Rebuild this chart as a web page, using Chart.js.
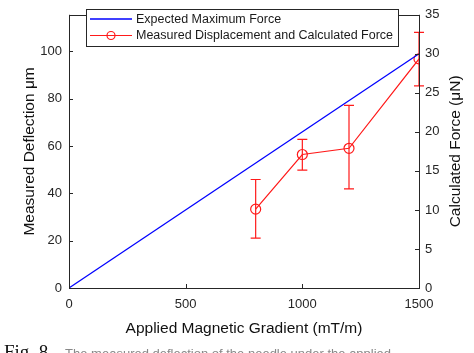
<!DOCTYPE html>
<html>
<head>
<meta charset="utf-8">
<script src="https://cdn.jsdelivr.net/npm/chart.js@4.4.1/dist/chart.umd.min.js"></script>
<style>
  html, body { margin: 0; padding: 0; background: #fff; }
  #wrap { position: relative; width: 474px; height: 353px; overflow: hidden; }
  #caption { position: absolute; left: 4px; top: 342px; white-space: nowrap; line-height: 20px;
             font-family: "Liberation Serif", serif; font-size: 19px; color: #111; }
  #caption span { font-family: "Liberation Sans", sans-serif; font-size: 13px; color: #888; margin-left: 12px; }
</style>
</head>
<body>
<div id="wrap">
  <canvas id="chart" width="474" height="353"></canvas>
  <div id="caption">Fig. 8.<span>The measured deflection of the needle under the applied</span></div>
</div>
<script>
// gradient values (mT/m)
const gradient = [800, 1000, 1200, 1500];
// calculated force (uN) with error range
const force = [10.1, 17.1, 17.9, 29.35];
const forceLow = [6.4, 15.1, 12.7, 25.9];
const forceHigh = [13.9, 19.05, 23.4, 32.75];

// expected maximum force line
const expectedX = [0, 1500];
const expectedForce = [0, 30];

const xTicks = [0, 500, 1000, 1500];
const leftTicks = [0, 20, 40, 60, 80, 100];
const rightTicks = [0, 5, 10, 15, 20, 25, 30, 35];

const axisColor = "#262626";
const fontFamily = "'Liberation Sans', Arial, sans-serif";
const tickFont = { family: fontFamily, size: 13 };
const titleFont = { family: fontFamily, size: 15.5 };

// inward tick marks, box around the plot, right axis title
const boxPlugin = {
    id: "box",
    afterDraw(chart) {
        const ctx = chart.ctx;
        const a = chart.chartArea;
        const sx = chart.scales.x, sl = chart.scales.yL, sr = chart.scales.yR;
        ctx.save();
        ctx.strokeStyle = axisColor;
        ctx.lineWidth = 1;
        ctx.strokeRect(Math.round(a.left) + 0.5, Math.round(a.top) + 0.5,
            Math.round(a.right - a.left), Math.round(a.bottom - a.top));
        ctx.beginPath();
        xTicks.forEach(v => {
            const px = Math.round(sx.getPixelForValue(v)) + 0.5;
            ctx.moveTo(px, a.bottom); ctx.lineTo(px, a.bottom - 4);
            ctx.moveTo(px, a.top); ctx.lineTo(px, a.top + 4);
        });
        leftTicks.forEach(v => {
            const py = Math.round(sl.getPixelForValue(v)) + 0.5;
            ctx.moveTo(a.left, py); ctx.lineTo(a.left + 4, py);
        });
        rightTicks.forEach(v => {
            const py = Math.round(sr.getPixelForValue(v)) + 0.5;
            ctx.moveTo(a.right, py); ctx.lineTo(a.right - 4, py);
        });
        ctx.stroke();

        // right title reads bottom to top, like the left one
        ctx.translate(456, (a.top + a.bottom) / 2);
        ctx.rotate(-Math.PI / 2);
        ctx.font = titleFont.size + "px " + fontFamily;
        ctx.fillStyle = "#111";
        ctx.textAlign = "center";
        ctx.textBaseline = "middle";
        ctx.fillText("Calculated Force (\u03bcN)", 0, 0);
        ctx.restore();
    }
};

// vertical error bars with caps
const errorBarPlugin = {
    id: "errorBars",
    afterDatasetsDraw(chart) {
        const ctx = chart.ctx;
        const sx = chart.scales.x, sr = chart.scales.yR;
        ctx.save();
        ctx.strokeStyle = "#ff1a1a";
        ctx.lineWidth = 1.2;
        ctx.beginPath();
        gradient.forEach((g, i) => {
            const px = sx.getPixelForValue(g);
            const lo = sr.getPixelForValue(forceLow[i]);
            const hi = sr.getPixelForValue(forceHigh[i]);
            ctx.moveTo(px, lo); ctx.lineTo(px, hi);
            ctx.moveTo(px - 5, lo); ctx.lineTo(px + 5, lo);
            ctx.moveTo(px - 5, hi); ctx.lineTo(px + 5, hi);
        });
        ctx.stroke();
        ctx.restore();
    }
};

// boxed legend in the upper left of the plot
const legendPlugin = {
    id: "boxLegend",
    afterDraw(chart) {
        const ctx = chart.ctx;
        const x0 = 86.5, y0 = 9.5, w = 312, h = 37;
        ctx.save();
        ctx.fillStyle = "#fff";
        ctx.fillRect(x0, y0, w, h);
        ctx.strokeStyle = axisColor;
        ctx.lineWidth = 1;
        ctx.strokeRect(x0, y0, w, h);
        ctx.font = "12.5px " + fontFamily;
        ctx.fillStyle = "#1a1a1a";
        ctx.textBaseline = "middle";
        ctx.lineWidth = 1.4;
        ctx.strokeStyle = "#0000ff";
        ctx.beginPath(); ctx.moveTo(90, 19); ctx.lineTo(132, 19); ctx.stroke();
        ctx.fillText("Expected Maximum Force", 136, 20);
        ctx.strokeStyle = "#ff1a1a";
        ctx.lineWidth = 1.2;
        ctx.beginPath(); ctx.moveTo(90, 35.5); ctx.lineTo(132, 35.5); ctx.stroke();
        ctx.beginPath(); ctx.arc(111, 35.5, 4, 0, Math.PI * 2); ctx.stroke();
        ctx.fillText("Measured Displacement and Calculated Force", 136, 36);
        ctx.restore();
    }
};

new Chart(document.getElementById("chart"), {
    type: "scatter",
    data: {
        datasets: [{
            label: "Expected Maximum Force",
            data: expectedX.map((x, i) => ({ x: x, y: expectedForce[i] })),
            yAxisID: "yR",
            showLine: true,
            borderColor: "#0000ff",
            borderWidth: 1.2,
            pointRadius: 0
        }, {
            label: "Measured Displacement and Calculated Force",
            data: gradient.map((x, i) => ({ x: x, y: force[i] })),
            yAxisID: "yR",
            showLine: true,
            borderColor: "#ff1a1a",
            borderWidth: 1.2,
            pointRadius: 5,
            pointBorderWidth: 1.2,
            pointBorderColor: "#ff1a1a",
            pointBackgroundColor: "rgba(0,0,0,0)"
        }]
    },
    options: {
        responsive: false,
        animation: false,
        layout: { padding: { top: 6, bottom: 15, left: 0, right: 0 } },
        plugins: { legend: { display: false }, tooltip: { enabled: false } },
        scales: {
            x: {
                type: "linear", min: 0, max: 1500,
                grid: { display: false, drawTicks: false },
                border: { display: false },
                afterBuildTicks: s => { s.ticks = xTicks.map(v => ({ value: v })); },
                afterFit: s => { s.height = 50; },
                ticks: { font: tickFont, color: axisColor, padding: 9, maxRotation: 0, callback: v => String(v) },
                title: { display: true, text: "Applied Magnetic Gradient (mT/m)", font: titleFont, color: "#111", padding: 0 }
            },
            yL: {
                type: "linear", position: "left", min: 0, max: 115.5,
                grid: { display: false, drawTicks: false },
                border: { display: false },
                afterBuildTicks: s => { s.ticks = leftTicks.map(v => ({ value: v })); },
                afterFit: s => { s.width = 69; },
                ticks: { font: tickFont, color: axisColor, padding: 7, callback: v => String(v) },
                title: { display: true, text: "Measured Deflection \u03bcm", font: titleFont, color: "#111", padding: { top: 20, bottom: 0 } }
            },
            yR: {
                type: "linear", position: "right", min: 0, max: 35,
                grid: { display: false, drawTicks: false },
                border: { display: false },
                afterBuildTicks: s => { s.ticks = rightTicks.map(v => ({ value: v })); },
                afterFit: s => { s.width = 55; },
                ticks: { font: tickFont, color: axisColor, padding: 6, callback: v => String(v) },
                title: { display: false }
            }
        }
    },
    plugins: [boxPlugin, errorBarPlugin, legendPlugin]
});
</script>
</body>
</html>
